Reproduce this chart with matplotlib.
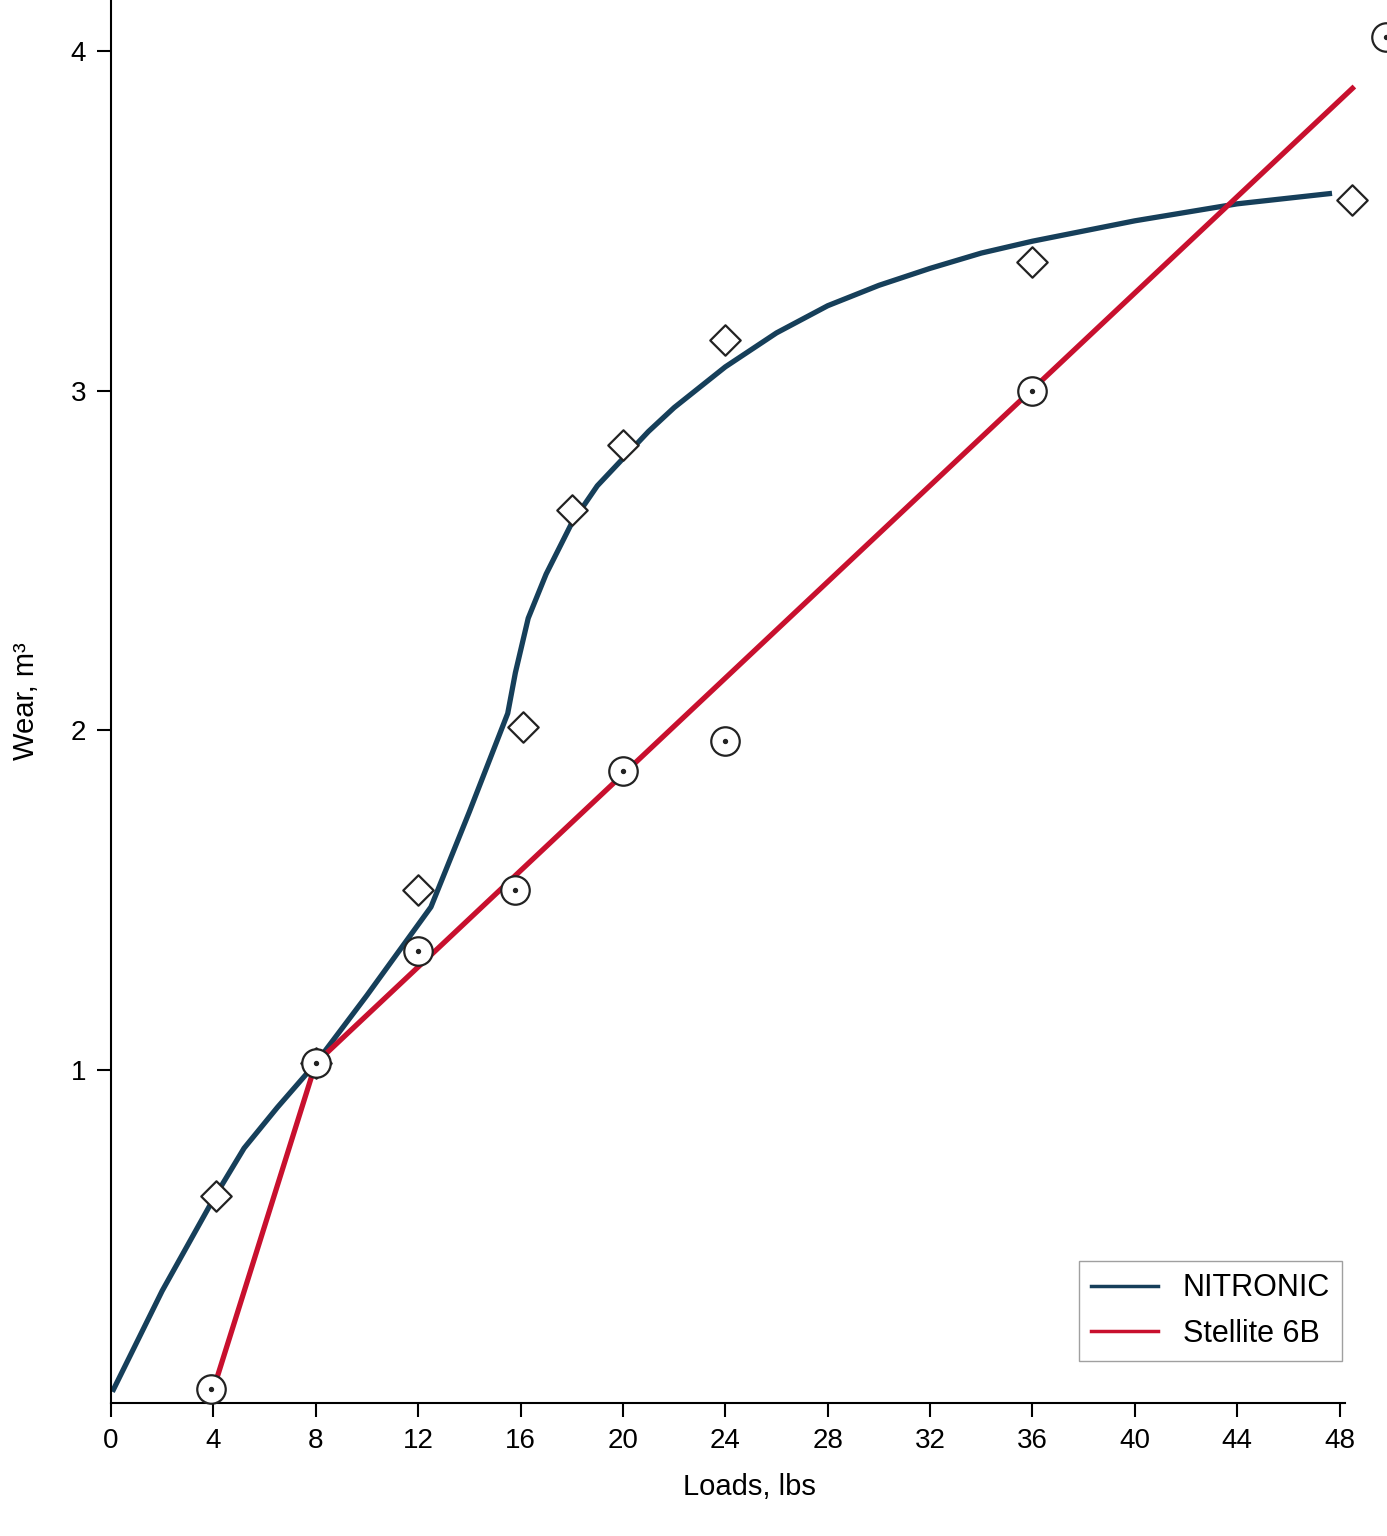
import matplotlib
matplotlib.use('Agg')
import matplotlib.pyplot as plt

plt.rcParams['font.family']='Liberation Sans'

# measured points
nit_x=[4.1,8,12,16.1,18,20,24,36,48.5]
nit_y=[0.63,1.02,1.53,2.01,2.65,2.84,3.15,3.38,3.56]
ste_x=[3.9,8,12,15.8,20,24,36,49.8]
ste_y=[0.06,1.02,1.35,1.53,1.88,1.97,3.0,4.04]
# fitted curves as drawn
nit_cx=[0.1,2,4,5.2,6.5,8,10,12.5,14,15.5,15.8,16.3,17,18,19,20,21,22,23,24,26,28,30,32,34,36,40,44,47.6]
nit_cy=[0.06,0.35,0.62,0.77,0.89,1.02,1.22,1.48,1.76,2.05,2.17,2.33,2.46,2.61,2.72,2.8,2.88,2.95,3.01,3.07,3.17,3.25,3.31,3.36,3.405,3.44,3.5,3.55,3.58]
ste_cx=[4,8,48.5]
ste_cy=[0.06,1.02,3.89]
xticks=[0,4,8,12,16,20,24,28,32,36,40,44,48]
yticks=[1,2,3,4]

fig=plt.figure(figsize=(13.87,15.36),dpi=100)
ax=fig.add_axes([0.08,0.0866,0.92,0.9134])
navy='#163f5a'; red='#c8102e'
ax.plot(nit_cx,nit_cy,color=navy,lw=3.8,label='NITRONIC')
ax.plot(ste_cx,ste_cy,color=red,lw=3.8,label='Stellite 6B')
ax.scatter(nit_x,nit_y,marker='D',s=240,facecolor='white',edgecolor='#222',linewidth=1.6,zorder=3,clip_on=False)
ax.scatter(ste_x,ste_y,marker='o',s=420,facecolor='white',edgecolor='#222',linewidth=1.6,zorder=3,clip_on=False)
ax.scatter(ste_x,ste_y,marker='o',s=8,color='#222',zorder=4,clip_on=False)
ax.set_xlim(0,49.85)
ax.set_ylim(0.02,4.15)
ax.set_xticks(xticks)
ax.set_yticks(yticks)
ax.tick_params(labelsize=20,length=10,width=1.5,pad=8)
ax.spines['top'].set_visible(False)
ax.spines['right'].set_visible(False)
ax.spines['bottom'].set_bounds(0,48.2)
ax.spines['left'].set_linewidth(1.5)
ax.spines['bottom'].set_linewidth(1.5)
ax.set_xlabel('Loads, lbs',fontsize=21,labelpad=14)
ax.set_ylabel('Wear, m³',fontsize=21,labelpad=22)
leg=ax.legend(loc='lower right',bbox_to_anchor=(0.965,0.03),fontsize=22,fancybox=False,edgecolor='#888',handlelength=2.2,borderaxespad=0)
for l in leg.get_lines():
    l.set_linewidth(2.5)
plt.savefig('out.png',dpi=100)
